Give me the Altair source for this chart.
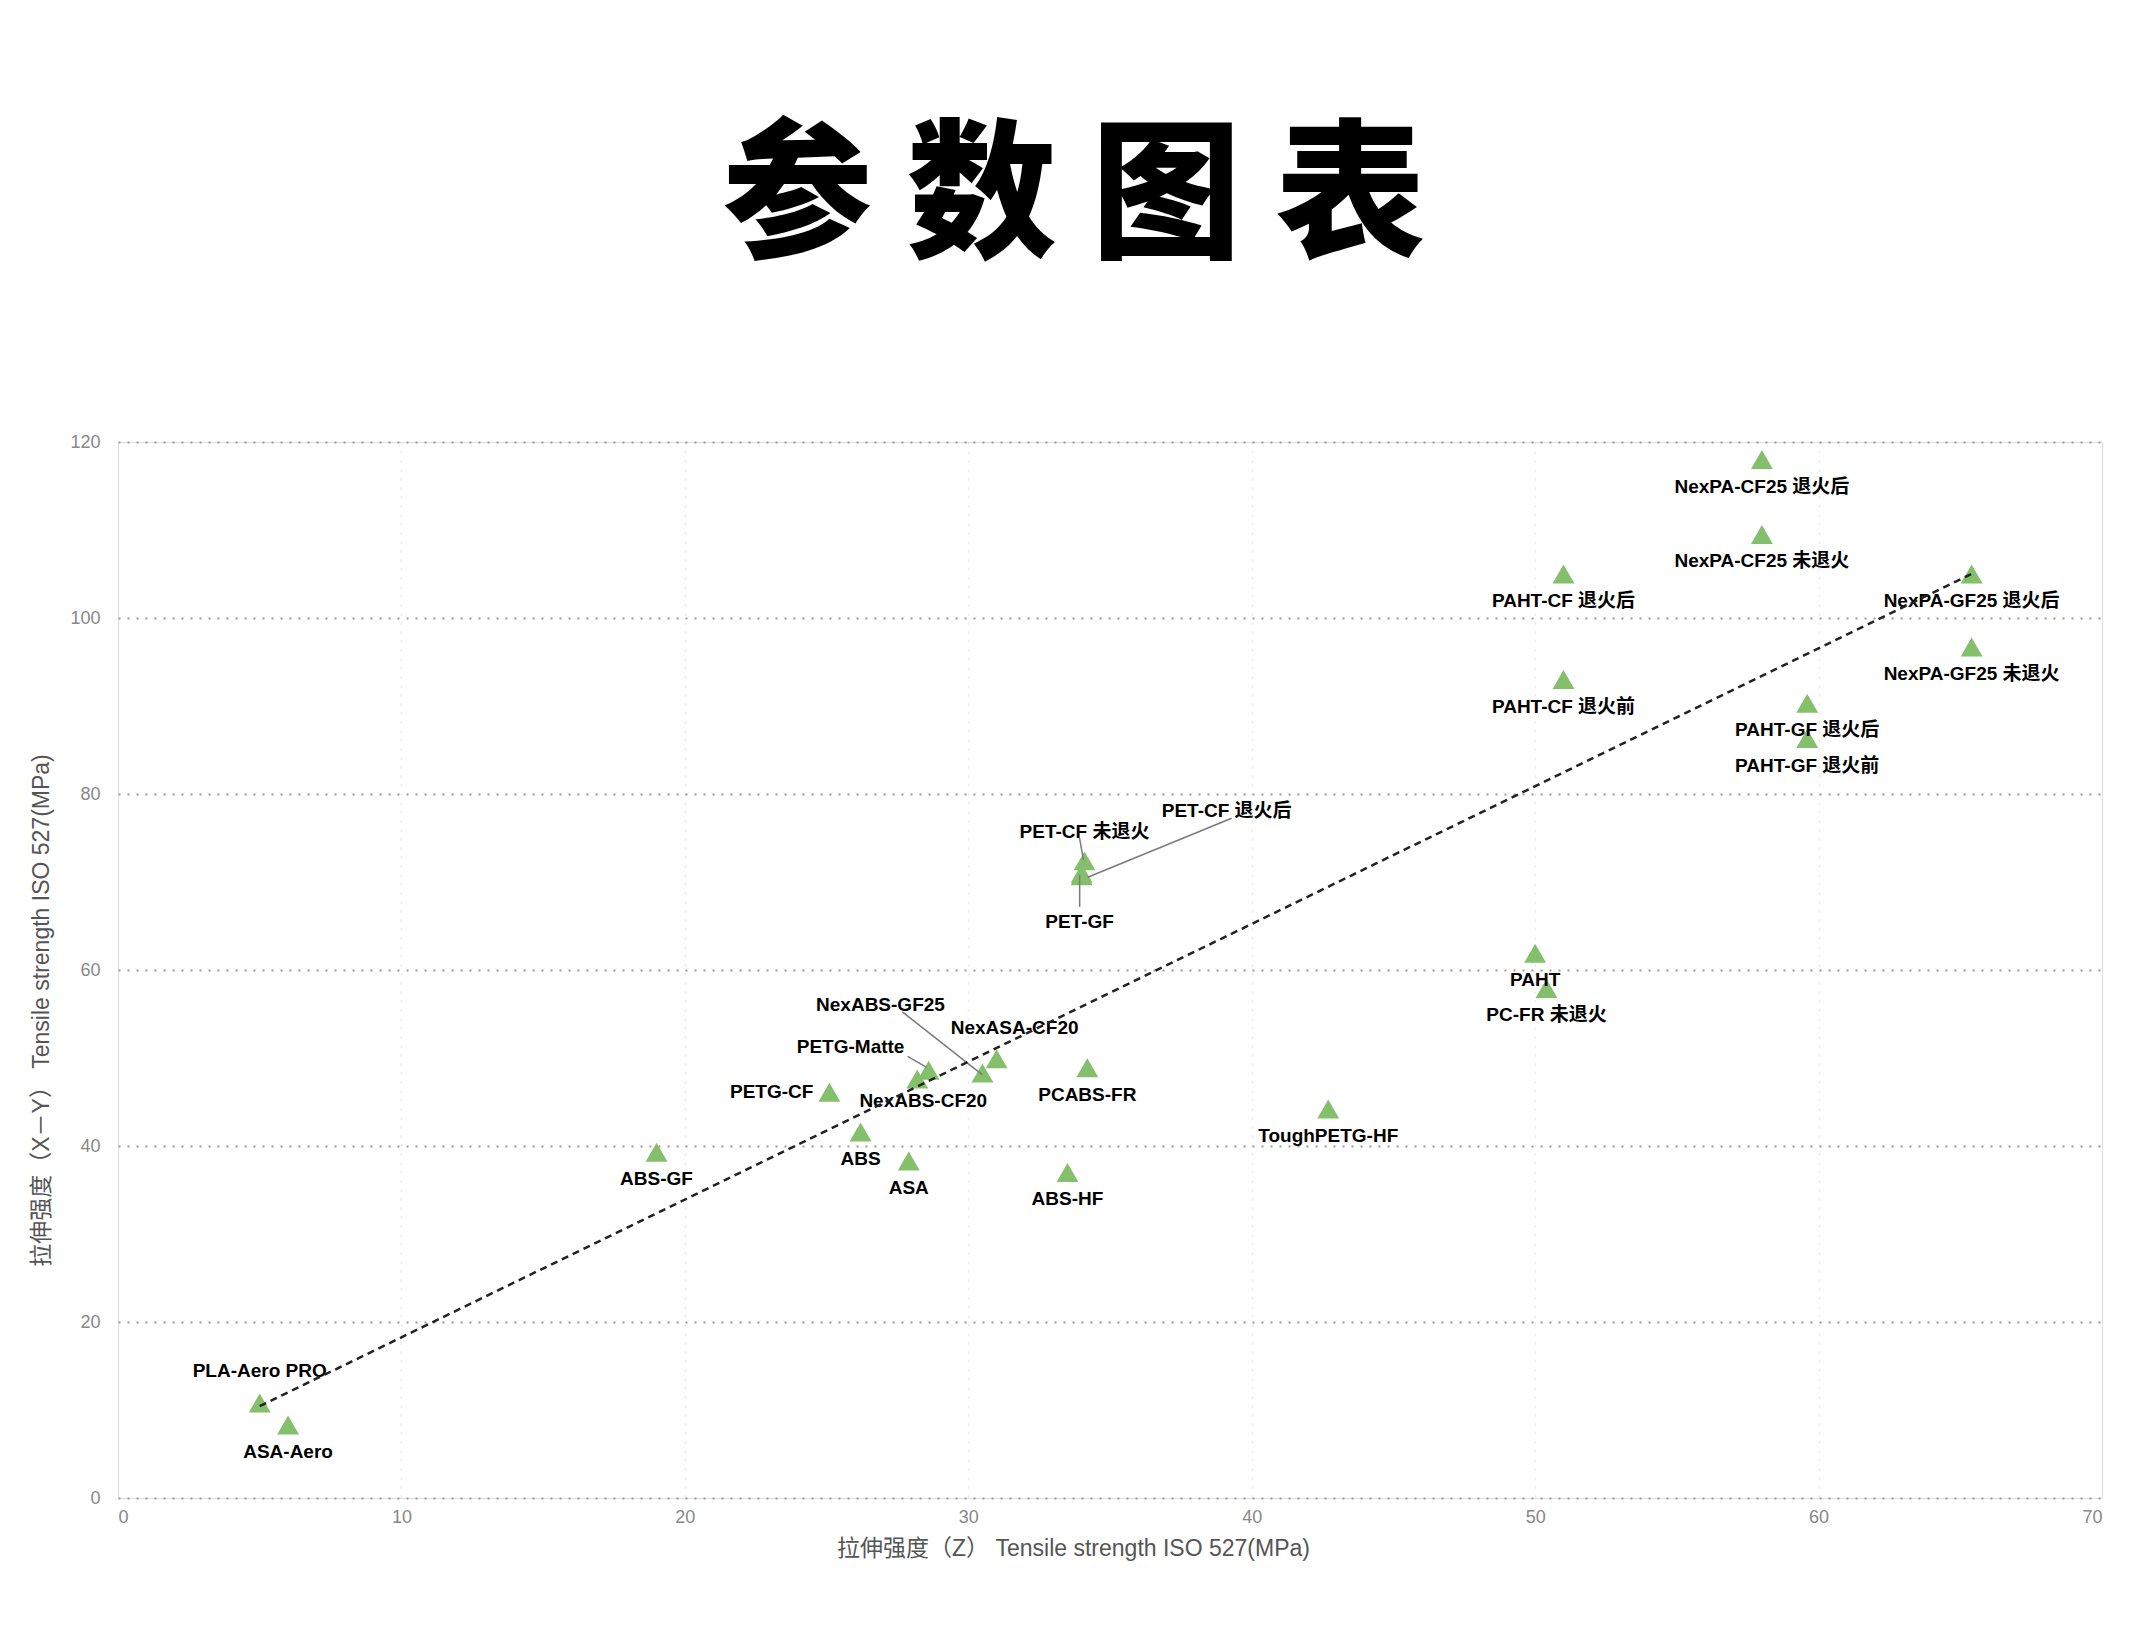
import json
import altair as alt
import pandas as pd

# ---- data ----
names = [
    "NexPA-CF25 退火后", "NexPA-CF25 未退火", "PAHT-CF 退火后", "PAHT-CF 退火前",
    "NexPA-GF25 退火后", "NexPA-GF25 未退火", "PAHT-GF 退火后", "PAHT-GF 退火前",
    "PET-CF 未退火", "PET-CF 退火后", "PET-GF", "PAHT", "PC-FR 未退火",
    "NexASA-CF20", "NexABS-GF25", "PETG-Matte", "NexABS-CF20", "PCABS-FR",
    "PETG-CF", "ABS", "ASA", "ABS-HF", "ToughPETG-HF", "ABS-GF",
    "PLA-Aero PRO", "ASA-Aero",
]
z_strength = [
    58, 58, 51, 51,
    65.4, 65.4, 59.6, 59.6,
    34.1, 34, 34, 50, 50.4,
    31, 30.5, 28.6, 28.2, 34.2,
    25.1, 26.2, 27.9, 33.5, 42.7, 19,
    5, 6,
]
xy_strength = [
    118, 109.5, 105, 93,
    105, 96.7, 90.3, 86.3,
    72.4, 71, 70.7, 61.9, 57.9,
    49.9, 48.3, 48.6, 47.6, 48.9,
    46.1, 41.6, 38.3, 37, 44.2, 39.3,
    10.8, 8.3,
]
x_ticks = [0, 10, 20, 30, 40, 50, 60, 70]
y_ticks = [0, 20, 40, 60, 80, 100, 120]

df = pd.DataFrame({"name": names, "Z": z_strength, "XY": xy_strength})

GREEN = "#84bf6b"
LABEL_FONT = "Liberation Sans, Arial, Noto Sans CJK SC"
AXIS_FONT = "Liberation Sans Narrow, Liberation Sans, Noto Sans CJK SC"

x_enc = alt.X(
    "Z:Q",
    scale=alt.Scale(domain=[0, 70], nice=False),
    axis=alt.Axis(
        values=x_ticks, title="拉伸强度（Z） Tensile strength ISO 527(MPa)",
        domain=False, ticks=False, grid=True,
        gridColor="#e6e6e6", gridDash=[2, 7], gridWidth=1.5,
        labelColor="#888888", labelFontSize=18, labelFont=AXIS_FONT, labelPadding=10,
        titleColor="#555555", titleFontSize=23, titleFont=AXIS_FONT, titleFontWeight="normal",
        titlePadding=11, titleX=955,
    ),
)
y_enc = alt.Y(
    "XY:Q",
    scale=alt.Scale(domain=[0, 120], nice=False),
    axis=alt.Axis(
        values=y_ticks, title="拉伸强度（X－Y） Tensile strength ISO 527(MPa)",
        domain=False, ticks=False, grid=True,
        gridColor="#9a9a9a", gridDash=[2, 7], gridWidth=2,
        labelColor="#888888", labelFontSize=18, labelFont=AXIS_FONT, labelPadding=18,
        titleColor="#555555", titleFontSize=23, titleFont=AXIS_FONT, titleFontWeight="normal",
        titlePadding=16, titleY=568,
    ),
)

base = alt.Chart(df).encode(x=x_enc, y=y_enc)

points = base.mark_point(shape="triangle-up", filled=True, size=480, color=GREEN, opacity=1)

# label placement (styling, not data)
special = {
    "PLA-Aero PRO": dict(dx=0, dy=-32),
    "PETG-CF": dict(dx=-16, dy=0, align="right"),
    "PETG-Matte": dict(dx=-78, dy=-23),
    "NexABS-GF25": dict(dx=-102, dy=-68),
    "NexASA-CF20": dict(dx=18, dy=-31),
    "NexABS-CF20": dict(dx=6, dy=22),
    "PET-CF 未退火": dict(dx=0, dy=-29),
    "PET-CF 退火后": dict(dx=145, dy=-62),
    "PET-GF": dict(dx=-2, dy=46),
}
leaders = {
    "PETG-Matte": (-21, -14, -2, -3),
    "NexABS-GF25": (-80, -61, 0, 2),
    "PET-CF 未退火": (-5, -23, -1, -1),
    "PET-CF 退火后": (150, -55, 6, 4),
    "PET-GF": (-2, 31, -2, -1),
}

text_style = dict(font=LABEL_FONT, fontSize=19, fontWeight="bold", color="#000000", baseline="middle")

default_labels = base.transform_filter(
    "indexof(" + json.dumps(list(special.keys()), ensure_ascii=False) + ", datum.name) < 0"
).mark_text(dy=27, align="center", **text_style).encode(text="name:N")

layers = [points, default_labels]
for n, opt in special.items():
    o = dict(opt)
    align = o.pop("align", "center")
    layers.append(
        base.transform_filter(alt.FieldEqualPredicate(field="name", equal=n))
        .mark_text(align=align, **o, **text_style)
        .encode(text="name:N")
    )
for n, (x1o, y1o, x2o, y2o) in leaders.items():
    layers.append(
        base.transform_filter(alt.FieldEqualPredicate(field="name", equal=n))
        .mark_rule(color="#7a7a7a", strokeWidth=1.5,
                   xOffset=x1o, yOffset=y1o, x2Offset=x2o, y2Offset=y2o)
        .encode(x2=alt.X2("Z:Q"), y2=alt.Y2("XY:Q"))
    )

trend = base.transform_regression("Z", "XY").mark_line(
    color="#222222", strokeWidth=2.5, strokeDash=[7, 5]
)
layers.append(trend)

chart = alt.layer(*layers).properties(
    width=1984,
    height=1056,
    autosize="none",
    padding={"left": 110, "top": 434, "right": 40, "bottom": 120},
    title=alt.Title(
        text="参 数 图 表", fontSize=150, font="Noto Sans CJK SC", fontWeight=900,
        color="#000000", anchor="middle", offset=6, baseline="bottom", dx=-36,
    ),
).configure_view(stroke=None).configure(background="white")

chart.save("out.html", embed_options={"renderer": "svg", "actions": False})
